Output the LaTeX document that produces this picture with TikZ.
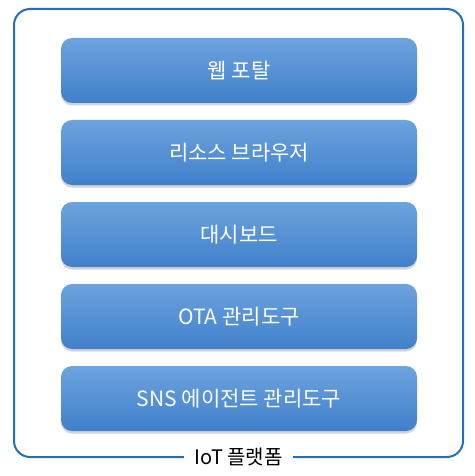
\documentclass[tikz,border=0pt]{standalone}
\usepackage{fontspec}
\setmainfont{Noto Sans CJK KR}
\usetikzlibrary{shadows}

\definecolor{frameblue}{HTML}{2170C0}
\definecolor{boxtop}{HTML}{6DA3DE}
\definecolor{boxbottom}{HTML}{4080CB}

\tikzset{
  layerbox/.style={rounded corners=11pt, minimum width=356pt, minimum height=65pt,
    top color=boxtop, bottom color=boxbottom, draw=none, text=white,
    font=\fontsize{21}{24}\selectfont,
    drop shadow={shadow xshift=0pt, shadow yshift=-2.5pt, opacity=0.35, fill=gray}},
  framelabel/.style={fill=white, inner xsep=10pt, inner ysep=2pt,
    font=\fontsize{20}{23}\selectfont}
}

\begin{document}
\begin{tikzpicture}[x=1pt,y=-1pt]

\useasboundingbox (0,0) rectangle (474,476);

\draw[frameblue, line width=2pt, rounded corners=16pt] (14,9) rectangle (463,457);

\node[layerbox] (portal) at (239, 70.5) {웹 포탈};
\node[layerbox] (browser) at (239, 152.5) {리소스 브라우저};
\node[layerbox] (dashboard) at (239, 234.5) {대시보드};
\node[layerbox] (ota) at (239, 316.5) {OTA 관리도구};
\node[layerbox] (sns) at (239, 398.5) {SNS 에이전트 관리도구};

\node[framelabel] (platform) at (238.5, 457) {IoT 플랫폼};

\end{tikzpicture}
\end{document}
